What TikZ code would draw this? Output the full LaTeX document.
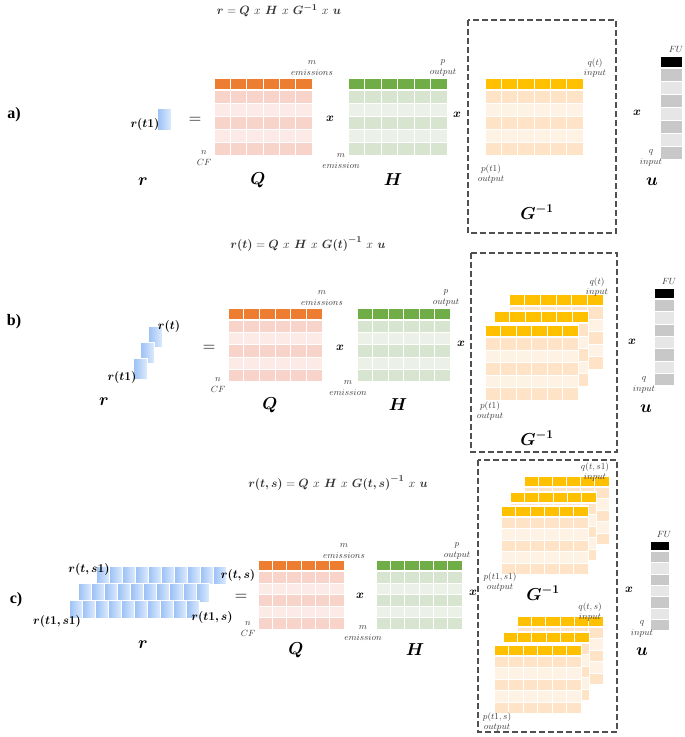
\documentclass[tikz,border=0pt]{standalone}
\usepackage{bm}
\usepackage{fontspec}
\newfontfamily\timesfont{Liberation Serif}
\definecolor{hdrQ}{HTML}{ED7D31}
\definecolor{qA}{HTML}{F7D3C9}
\definecolor{qB}{HTML}{FBEAE5}
\definecolor{hdrH}{HTML}{70AD47}
\definecolor{hA}{HTML}{D7E4CF}
\definecolor{hB}{HTML}{EBF1E7}
\definecolor{hdrG}{HTML}{FFC000}
\definecolor{gA}{HTML}{FEE3C6}
\definecolor{gB}{HTML}{FEF2E5}
\definecolor{uA}{HTML}{C8C8C8}
\definecolor{uB}{HTML}{E6E6E6}
\definecolor{blueL}{HTML}{DCEAFD}
\definecolor{blueD}{HTML}{98BFF5}
\definecolor{boxgray}{HTML}{505050}
\definecolor{labgray}{HTML}{3C3C3C}
% #1 x0, #2 y0, #3 width, #4 header h, #5 row h, #6 header col, #7 row A, #8 row B
\newcommand{\gridmat}[8]{%
  \fill[white] ({#1-1},{#2-1}) rectangle ({#1+#3+1},{#2+#4+1.5+5*#5+1});
  \foreach \i in {0,...,5}{%
    \filldraw[fill=#6,draw=white,line width=0.9pt] ({#1+\i*#3/6},#2) rectangle ({#1+(\i+1)*#3/6},{#2+#4});
  }
  \foreach \j in {0,...,4}{%
    \ifodd\j \def\rowcol{#8}\else \def\rowcol{#7}\fi
    \foreach \i in {0,...,5}{%
      \filldraw[fill=\rowcol,draw=white,line width=0.9pt] ({#1+\i*#3/6},{#2+#4+1.5+\j*#5}) rectangle ({#1+(\i+1)*#3/6},{#2+#4+1.5+(\j+1)*#5});
    }
  }
}
% #1 x, #2 y, #3 w, #4 black h, #5 row h
\newcommand{\uvec}[5]{%
  \filldraw[fill=black,draw=white,line width=0.9pt] (#1,#2) rectangle ++(#3,#4);
  \foreach \j in {0,...,6}{%
    \ifodd\j \def\rowcol{uB}\else \def\rowcol{uA}\fi
    \filldraw[fill=\rowcol,draw=white,line width=0.9pt] (#1,{#2+#4+1.5+\j*#5}) rectangle ++(#3,#5);
  }
}
\begin{document}
\begin{tikzpicture}[x=1pt,y=-1pt,
  formula/.style={font=\fontsize{13}{15}\selectfont, text=black!80, inner sep=0pt},
  big/.style={font=\fontsize{17}{20}\selectfont, inner sep=0pt},
  rlab/.style={font=\fontsize{12}{14}\selectfont, inner sep=0pt},
  small/.style={font=\fontsize{9.3}{10.8}\selectfont, text=labgray, align=center, inner sep=0pt},
  op/.style={font=\fontsize{13}{15}\selectfont, inner sep=0pt},
  eq/.style={font=\fontsize{17}{20}\selectfont, inner sep=0pt},
  panel/.style={font=\timesfont\bfseries\fontsize{16}{18}\selectfont, inner sep=0pt},
  dashbox/.style={draw=boxgray, dash pattern=on 6pt off 3pt, line width=1.3pt},
  bluecell/.style={left color=blueD, right color=blueL, draw=white, line width=0.6pt}]
\useasboundingbox (0,0) rectangle (685,737);

% ================= panel a =================
\node[formula] (fa) at (279,11) {$\bm{r} = \bm{Q}\ x\ \bm{H}\ x\ \bm{G}^{\bm{-1}}\ x\ \bm{u}$};
\node[panel] (pa) at (14,115) {a)};
\path[bluecell] (157,108) rectangle (171,130);
\node[rlab] (ra1) at (145,124) {$\bm{r(t1)}$};
\node[eq] (eqa) at (195,120) {$=$};
\node[big] (ra) at (143,182) {$\bm{r}$};
\gridmat{214}{78}{98}{11}{13}{hdrQ}{qA}{qB}
\node[small] (qma) at (312,68) {$m$\\$emissions$};
\node[small] (qna) at (204,158) {$n$\\$CF$};
\node[big] (Qa) at (258,180) {$\bm{Q}$};
\node[op] (xa1) at (330,119) {$\bm{x}$};
\gridmat{348}{78}{99}{11}{13}{hdrH}{hA}{hB}
\node[small] (hma) at (341,161) {$m$\\$emission$};
\node[small] (hpa) at (443,68) {$p$\\$output$};
\node[big] (Ha) at (393,180) {$\bm{H}$};
\node[op] (xa2) at (457,115) {$\bm{x}$};
\draw[dashbox] (468,20) rectangle (616,233);
\gridmat{485}{78}{98}{11}{13}{hdrG}{gA}{gB}
\node[small] (gqa) at (595,68) {$q(t)$\\$input$};
\node[small] (gpa) at (491,174) {$p(t1)$\\$output$};
\node[big] (Ga) at (537,212) {$\bm{G}^{\bm{-1}}$};
\node[op] (xa3) at (637,113) {$\bm{x}$};
\uvec{660}{56}{22}{11}{13}
\node[small] (fua) at (676,49) {$FU$};
\node[small] (uqa) at (651,158) {$q$\\$input$};
\node[big] (ua) at (652,182) {$\bm{u}$};

% ================= panel b =================
\node[formula] (fb) at (308,244) {$\bm{r(t)} = \bm{Q}\ x\ \bm{H}\ x\ \bm{G(t)}^{\bm{-1}}\ x\ \bm{u}$};
\node[panel] (pb) at (14,322) {b)};
\path[bluecell] (148,326) rectangle (162,347);
\path[bluecell] (140,342) rectangle (154,363);
\path[bluecell] (133,358) rectangle (147,379);
\node[rlab] (rbt) at (169,326) {$\bm{r(t)}$};
\node[rlab] (rb1) at (122,377) {$\bm{r(t1)}$};
\node[big] (rb) at (104,402) {$\bm{r}$};
\node[eq] (eqb) at (209,348) {$=$};
\gridmat{228}{308}{94}{11}{12.2}{hdrQ}{qA}{qB}
\node[small] (qmb) at (322,298) {$m$\\$emissions$};
\node[small] (qnb) at (218,385) {$n$\\$CF$};
\node[big] (Qb) at (270,405) {$\bm{Q}$};
\node[op] (xb1) at (340,348) {$\bm{x}$};
\gridmat{357}{308}{93}{11}{12.2}{hdrH}{hA}{hB}
\node[small] (hmb) at (348,388) {$m$\\$emission$};
\node[small] (hpb) at (446,298) {$p$\\$output$};
\node[big] (Hb) at (398,405) {$\bm{H}$};
\node[op] (xb2) at (461,344) {$\bm{x}$};
\draw[dashbox] (471,253) rectangle (617,452);
\gridmat{509}{294}{94}{11}{12.6}{hdrG}{gA}{gB}
\gridmat{494}{311}{94}{11}{12.6}{hdrG}{gA}{gB}
\gridmat{485}{325}{93}{11}{12.6}{hdrG}{gA}{gB}
\node[small] (gqb) at (597,287) {$q(t)$\\$input$};
\node[small] (gpb) at (490,411) {$p(t1)$\\$output$};
\node[big] (Gb) at (537,438) {$\bm{G}^{\bm{-1}}$};
\node[op] (xb3) at (632,342) {$\bm{x}$};
\uvec{654}{288}{20}{10}{12.3}
\node[small] (fub) at (669,281) {$FU$};
\node[small] (uqb) at (644,385) {$q$\\$input$};
\node[big] (ub) at (646,409) {$\bm{u}$};

% ================= panel c =================
\node[formula] (fc) at (338,483) {$\bm{r(t,s)} = \bm{Q}\ x\ \bm{H}\ x\ \bm{G(t,s)}^{\bm{-1}}\ x\ \bm{u}$};
\node[panel] (pc) at (16,600) {c)};
\foreach \i in {0,...,9}{\path[bluecell] ({96+13*\i},566) rectangle ++(13,18);}
\foreach \i in {0,...,9}{\path[bluecell] ({78+13.1*\i},583) rectangle ++(13.1,19);}
\foreach \i in {0,...,9}{\path[bluecell] ({69+13*\i},600) rectangle ++(13,18);}
\node[rlab] (rcts1) at (89,569) {$\bm{r(t,s1)}$};
\node[rlab] (rcts) at (238,575) {$\bm{r(t,s)}$};
\node[rlab] (rc1s1) at (57,621) {$\bm{r(t1,s1)}$};
\node[rlab] (rc1s) at (212,617) {$\bm{r(t1,s)}$};
\node[big] (rc) at (143,645) {$\bm{r}$};
\node[eq] (eqc) at (241,597) {$=$};
\gridmat{258}{560}{86}{10}{11.5}{hdrQ}{qA}{qB}
\node[small] (qmc) at (344,551) {$m$\\$emissions$};
\node[small] (qnc) at (248,629) {$n$\\$CF$};
\node[big] (Qc) at (296,650) {$\bm{Q}$};
\node[op] (xc1) at (360,596) {$\bm{x}$};
\gridmat{376}{560}{86}{10}{11.5}{hdrH}{hA}{hB}
\node[small] (hpc) at (457,551) {$p$\\$output$};
\node[small] (hmc) at (363,633) {$m$\\$emission$};
\node[big] (Hc) at (415,650) {$\bm{H}$};
\node[op] (xc2) at (473,593) {$\bm{x}$};
\draw[dashbox] (478,460) rectangle (617,732);
\gridmat{524}{476}{85}{10}{11.4}{hdrG}{gA}{gB}
\gridmat{510}{492}{86}{10}{11.4}{hdrG}{gA}{gB}
\gridmat{501}{506}{87}{10}{11.4}{hdrG}{gA}{gB}
\node[small] (gqc1) at (595,472) {$q(t,s1)$\\$input$};
\node[small] (gpc1) at (500,582) {$p(t1,s1)$\\$output$};
\node[big] (Gc) at (543,593) {$\bm{G}^{\bm{-1}}$};
\gridmat{517}{616}{86}{10}{11.4}{hdrG}{gA}{gB}
\gridmat{503}{632}{86}{10}{11.4}{hdrG}{gA}{gB}
\gridmat{494}{645}{87}{10}{11.4}{hdrG}{gA}{gB}
\node[small] (gqc2) at (590,612) {$q(t,s)$\\$input$};
\node[small] (gpc2) at (497,722) {$p(t1,s)$\\$output$};
\node[op] (xc3) at (629,590) {$\bm{x}$};
\uvec{650}{541}{19}{9}{11.3}
\node[small] (fuc) at (664,534) {$FU$};
\node[small] (uqc) at (642,629) {$q$\\$input$};
\node[big] (uc) at (642,652) {$\bm{u}$};
\end{tikzpicture}
\end{document}
